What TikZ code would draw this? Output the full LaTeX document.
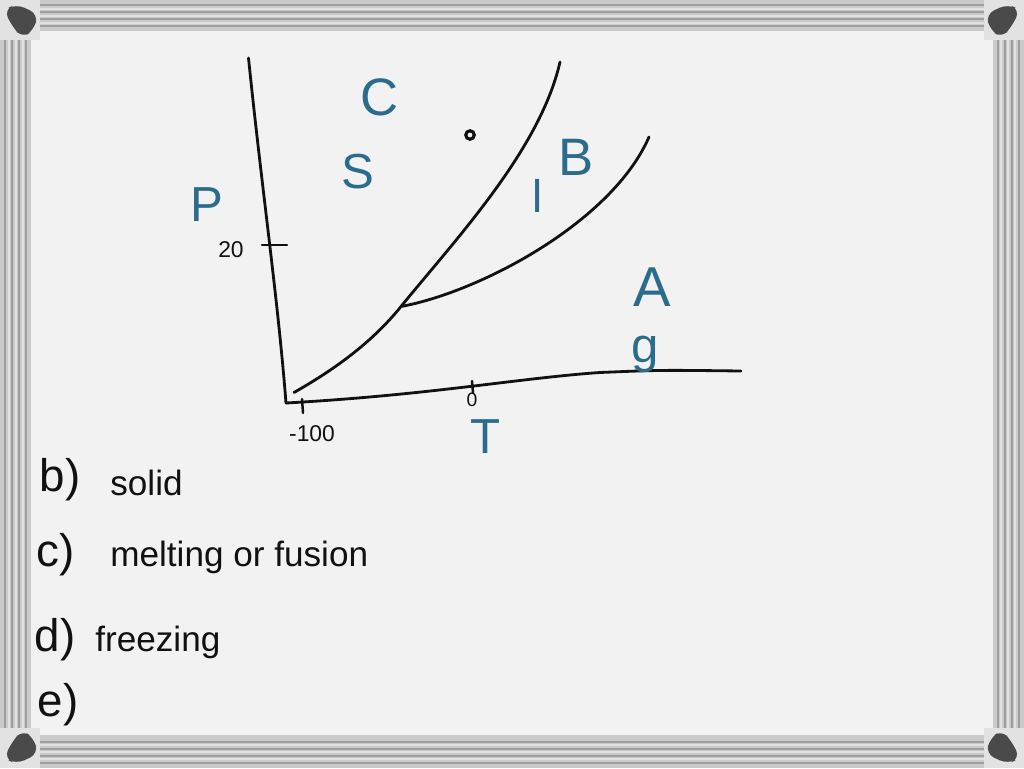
\documentclass[tikz,border=0pt]{standalone}
\usepackage{fontspec}
\setmainfont{Liberation Sans}
\usetikzlibrary{calc,positioning}
\definecolor{board}{HTML}{F2F2F2}
\definecolor{frame}{HTML}{CACACA}
\definecolor{frameline}{HTML}{9E9E9E}
\definecolor{framehi}{HTML}{E2E2E2}
\definecolor{knob}{HTML}{4A4A4A}
\definecolor{ink}{HTML}{111111}
\definecolor{penblue}{HTML}{2B6C8C}

\begin{document}
\begin{tikzpicture}[
    x=0.02cm, y=-0.02cm,
    curve/.style={ink, line width=1.6pt, line cap=round, line join=round},
    tickmark/.style={ink, line width=1.4pt, line cap=round},
    phase/.style={text=penblue, inner sep=0, font=\fontsize{#1}{#1}\selectfont},
    phase/.default=28,
    axisnum/.style={text=ink, inner sep=0, font=\fontsize{13}{13}\selectfont},
    answer/.style={text=ink, inner sep=0, anchor=west, font=\fontsize{20}{24}\selectfont},
    item/.style={text=ink, inner sep=0, font=\fontsize{26}{26}\selectfont}]
\useasboundingbox (0,0) rectangle (1024,768);

% whiteboard frame
\fill[frame] (0,0) rectangle (1024,768);
\foreach \s in {5,12,19,26} {
    \draw[frameline, line width=0.8pt] (0,\s) -- (1024,\s);
    \draw[frameline, line width=0.8pt] (0,768-\s) -- (1024,768-\s);
    \draw[frameline, line width=0.8pt] (\s,0) -- (\s,768);
    \draw[frameline, line width=0.8pt] (1024-\s,0) -- (1024-\s,768);
}
\foreach \s in {9,16,23} {
    \draw[framehi, line width=0.8pt] (0,\s) -- (1024,\s);
    \draw[framehi, line width=0.8pt] (0,768-\s) -- (1024,768-\s);
    \draw[framehi, line width=0.8pt] (\s,0) -- (\s,768);
    \draw[framehi, line width=0.8pt] (1024-\s,0) -- (1024-\s,768);
}
\fill[board] (31,31) rectangle (993,735);
\foreach \cx/\cy/\sx/\sy in {0/0/1/1, 1024/0/-1/1, 0/768/1/-1, 1024/768/-1/-1} {
    \begin{scope}[shift={(\cx,\cy)}, xscale=\sx, yscale=\sy]
        \fill[framehi] (0,0) rectangle (40,40);
        \fill[knob, rounded corners=5pt] (4,10) -- (16,4) -- (38,14) -- (34,30) -- (22,38) -- (12,26) -- cycle;
    \end{scope}
}

% axes
\coordinate (origin) at (286,403);
\coordinate (ptop) at (248.5,58);
\coordinate (tend) at (741,371);
\draw[curve] (ptop) .. controls (262,190) and (278,300) .. (origin);
\draw[curve] (origin) .. controls (430,395) and (520,378) .. (600,372.5) .. controls (660,370) .. (tend);

% phase boundaries
\coordinate (start) at (294,392.5);
\coordinate (triple) at (401,306.5);
\coordinate (fustop) at (560,62);
\coordinate (vaptop) at (649,137);
\draw[curve] (start) .. controls (330,372) and (370,345) .. (triple)
    .. controls (455,240) and (540,150) .. (fustop);
\draw[curve] (triple) .. controls (480,292) and (612,222) .. (vaptop);

% ticks
\draw[tickmark] (262,245) -- (287,245);
\draw[tickmark] (302,399) -- (303,413);
\draw[tickmark] (472,381) -- (473,393);
\node[axisnum] (pnum) at (231,250) {20};
\node[axisnum] (tmin) at (312,434) {-100};
\node[axisnum, font=\fontsize{11}{11}\selectfont] (tzero) at (472,400) {0};

% axis names
\node[phase=28] (plbl) at (207,205) {P};
\node[phase=28] (tlbl) at (486,437) {T};

% regions
\node[phase=30] (lblC) at (380,97) {C};
\node[phase=28] (lblS) at (358,172) {S};
\node[phase=30] (lblB) at (576,157) {B};
\node[phase=26] (lblL) at (538,196) {l};
\node[phase=32] (lblA) at (652,287) {A};
\node[phase=28] (lblG) at (645,354) {g};
\node[circle, draw=ink, line width=1.8pt, inner sep=0, minimum size=0.17cm] (dot) at (470,135) {};

% answers
\node[item] (itemb) at (60,480) {b)};
\node[answer] (ansb) at (110,483) {solid};
\node[item] (itemc) at (56,555) {c)};
\node[answer] (ansc) at (110,557) {melting or fusion};
\node[item] (itemd) at (55,640) {d)};
\node[answer] (ansd) at (95,642) {freezing};
\node[item] (iteme) at (58,705) {e)};

\end{tikzpicture}
\end{document}
